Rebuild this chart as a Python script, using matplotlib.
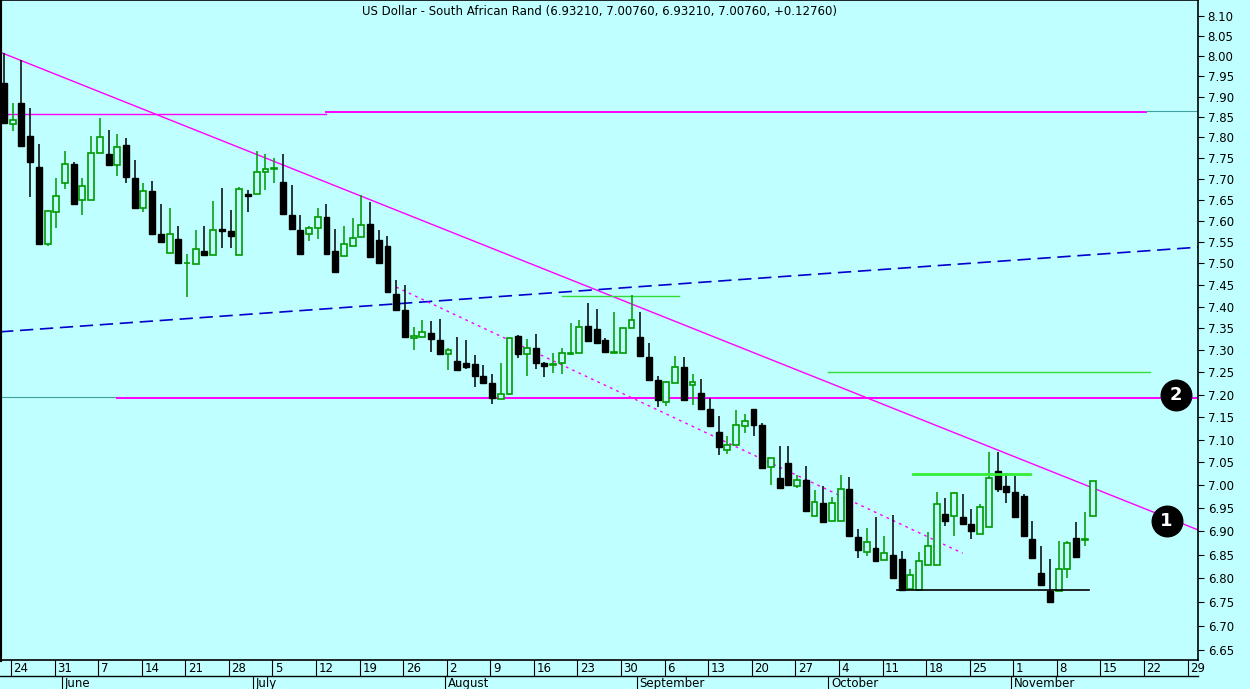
import numpy as np
import matplotlib.pyplot as plt
from matplotlib.ticker import FixedLocator, FixedFormatter, NullLocator
import matplotlib.transforms as mtransforms

# daily USD/ZAR candles, trading day 0 = Fri 21 May
opens = [7.933, 7.832, 7.884, 7.804, 7.729, 7.545, 7.622, 7.689, 7.736, 7.650,
         7.650, 7.763, 7.759, 7.733, 7.781, 7.701, 7.631, 7.670, 7.568, 7.525,
         7.557, 7.500, 7.498, 7.529, 7.519, 7.580, 7.575, 7.519, 7.664, 7.664,
         7.716, 7.723, 7.692, 7.614, 7.578, 7.569, 7.583, 7.610, 7.529, 7.517,
         7.540, 7.561, 7.593, 7.556, 7.540, 7.430, 7.392, 7.329, 7.330, 7.339,
         7.324, 7.291, 7.275, 7.271, 7.269, 7.242, 7.225, 7.190, 7.201, 7.333,
         7.291, 7.305, 7.271, 7.266, 7.271, 7.291, 7.293, 7.355, 7.348, 7.324,
         7.294, 7.293, 7.350, 7.330, 7.285, 7.233, 7.184, 7.227, 7.262, 7.221,
         7.203, 7.168, 7.116, 7.076, 7.087, 7.131, 7.168, 7.132, 7.040, 7.016,
         7.049, 6.999, 7.010, 6.932, 6.961, 6.923, 6.923, 6.992, 6.888, 6.856,
         6.864, 6.838, 6.849, 6.841, 6.777, 6.775, 6.827, 6.827, 6.937, 6.933,
         6.930, 6.915, 6.895, 6.909, 7.031, 6.999, 6.985, 6.976, 6.883, 6.812,
         6.773, 6.773, 6.820, 6.885, 6.881, 6.932]
highs = [8.007, 7.885, 7.991, 7.872, 7.784, 7.627, 7.701, 7.768, 7.740, 7.703,
         7.804, 7.848, 7.818, 7.808, 7.799, 7.746, 7.691, 7.696, 7.640, 7.631,
         7.587, 7.521, 7.579, 7.589, 7.648, 7.678, 7.625, 7.680, 7.673, 7.767,
         7.760, 7.750, 7.761, 7.685, 7.615, 7.589, 7.630, 7.640, 7.580, 7.588,
         7.606, 7.662, 7.645, 7.579, 7.564, 7.462, 7.449, 7.353, 7.369, 7.367,
         7.371, 7.305, 7.331, 7.324, 7.289, 7.267, 7.246, 7.271, 7.329, 7.335,
         7.326, 7.337, 7.274, 7.294, 7.305, 7.362, 7.369, 7.409, 7.394, 7.328,
         7.388, 7.350, 7.426, 7.388, 7.317, 7.242, 7.231, 7.287, 7.285, 7.246,
         7.234, 7.192, 7.153, 7.108, 7.166, 7.157, 7.168, 7.136, 7.059, 7.086,
         7.086, 7.023, 7.042, 6.990, 6.999, 6.974, 7.023, 7.018, 6.905, 6.907,
         6.930, 6.890, 6.935, 6.858, 6.820, 6.855, 6.899, 6.985, 6.972, 6.985,
         6.980, 6.948, 6.958, 7.073, 7.072, 7.026, 7.019, 6.980, 6.922, 6.868,
         6.840, 6.879, 6.879, 6.921, 6.942, 7.008]
lows = [7.835, 7.815, 7.779, 7.657, 7.545, 7.541, 7.584, 7.675, 7.640, 7.614,
        7.650, 7.763, 7.734, 7.706, 7.690, 7.630, 7.621, 7.569, 7.550, 7.525,
        7.501, 7.422, 7.498, 7.520, 7.519, 7.537, 7.537, 7.519, 7.621, 7.664,
        7.673, 7.690, 7.614, 7.580, 7.522, 7.553, 7.557, 7.522, 7.480, 7.517,
        7.540, 7.561, 7.514, 7.500, 7.433, 7.392, 7.331, 7.301, 7.330, 7.295,
        7.292, 7.255, 7.255, 7.258, 7.218, 7.225, 7.179, 7.190, 7.199, 7.283,
        7.242, 7.257, 7.240, 7.249, 7.247, 7.290, 7.293, 7.322, 7.317, 7.295,
        7.293, 7.293, 7.350, 7.286, 7.233, 7.173, 7.175, 7.227, 7.187, 7.177,
        7.168, 7.129, 7.065, 7.067, 7.087, 7.114, 7.107, 7.037, 7.001, 6.993,
        7.001, 6.994, 6.944, 6.932, 6.920, 6.923, 6.923, 6.889, 6.843, 6.847,
        6.837, 6.838, 6.800, 6.775, 6.777, 6.775, 6.827, 6.827, 6.912, 6.890,
        6.916, 6.883, 6.895, 6.909, 6.984, 6.961, 6.931, 6.889, 6.842, 6.785,
        6.749, 6.773, 6.800, 6.844, 6.868, 6.932]
closes = [7.835, 7.843, 7.779, 7.741, 7.545, 7.623, 7.658, 7.735, 7.640, 7.684,
          7.763, 7.801, 7.734, 7.776, 7.704, 7.630, 7.670, 7.569, 7.550, 7.569,
          7.501, 7.500, 7.533, 7.520, 7.579, 7.576, 7.565, 7.676, 7.659, 7.716,
          7.723, 7.726, 7.616, 7.580, 7.522, 7.584, 7.610, 7.522, 7.480, 7.545,
          7.560, 7.591, 7.514, 7.500, 7.433, 7.392, 7.331, 7.333, 7.341, 7.325,
          7.292, 7.300, 7.255, 7.263, 7.242, 7.225, 7.193, 7.201, 7.327, 7.292,
          7.305, 7.272, 7.265, 7.269, 7.294, 7.293, 7.354, 7.322, 7.317, 7.295,
          7.296, 7.350, 7.368, 7.286, 7.233, 7.188, 7.228, 7.261, 7.187, 7.229,
          7.168, 7.129, 7.084, 7.087, 7.132, 7.141, 7.133, 7.037, 7.059, 6.993,
          7.001, 7.012, 6.944, 6.963, 6.920, 6.961, 6.991, 6.889, 6.859, 6.878,
          6.837, 6.853, 6.800, 6.775, 6.807, 6.836, 6.868, 6.958, 6.922, 6.982,
          6.916, 6.901, 6.953, 7.016, 6.992, 6.985, 6.931, 6.889, 6.842, 6.785,
          6.749, 6.820, 6.875, 6.844, 6.883, 7.008]

# weekly date labels (Mondays) and month starts, as trading-day index
week_labels = ['24', '31', '7', '14', '21', '28', '5', '12', '19', '26', '2', '9', '16', '23',
               '30', '6', '13', '20', '27', '4', '11', '18', '25', '1', '8', '15', '22', '29']
week_days = [1 + 5 * k for k in range(len(week_labels))]
month_labels = ['June', 'July', 'August', 'September', 'October', 'November']
month_days = [7, 29, 51, 73, 95, 116]

y_ticks = [round(6.65 + 0.05 * k, 2) for k in range(30)]

BG = '#C0FFFF'
UP = '#009900'

fig = plt.figure(figsize=(12.5, 6.89), dpi=100, facecolor=BG)
ax = fig.add_axes([0.0, 1 - 660 / 689, 1198 / 1250, 660 / 689])
ax.set_facecolor(BG)
ax.set_yscale('log')

x = np.arange(len(opens))
o = np.array(opens); c = np.array(closes)
h = np.array(highs); l = np.array(lows)
up = c >= o
w = 0.68

for i in x:
    col = UP if up[i] else 'black'
    ax.vlines(i, l[i], h[i], color=col, lw=1.1, zorder=3)
    bot = min(o[i], c[i])
    ht = max(abs(c[i] - o[i]), 0.002)
    if up[i]:
        ax.bar(i, ht, w, bot, facecolor=BG, edgecolor=UP, lw=1.2, zorder=4)
    else:
        ax.bar(i, ht, w, bot, facecolor='black', edgecolor='black', lw=1.0, zorder=4)

# trend lines and levels
ax.plot([-0.46, 137], [8.010, 6.903], color='#FF00FF', lw=1, zorder=2)
ax.plot([-0.46, 37], [7.858, 7.858], color='#FF00FF', lw=1, zorder=2)
ax.plot([37, 131], [7.861, 7.861], color='#FF00FF', lw=1.4, zorder=2)
ax.plot([131, 137], [7.864, 7.864], color='#40A0A0', lw=0.8, zorder=2)
ax.plot([-0.46, 13], [7.195, 7.195], color='#40A0A0', lw=0.8, zorder=2)
ax.plot([13, 137], [7.192, 7.192], color='#FF00FF', lw=1.4, zorder=2)
ax.plot([-0.46, 137], [7.342, 7.538], color='#0000CC', lw=1.2, ls=(0, (8, 4)), zorder=2)
ax.plot([45, 110], [7.445, 6.853], color='#FF00FF', lw=1, ls=(0, (2, 3)), zorder=2)
ax.plot([94.5, 131.5], [7.251, 7.251], color='#33DD33', lw=1, zorder=2)
ax.plot([64, 77.5], [7.424, 7.424], color='#33DD33', lw=1, zorder=2)
ax.plot([104.3, 117.7], [7.024, 7.024], color='#33EE33', lw=2, zorder=5)
ax.plot([102.5, 124.5], [6.774, 6.774], color='black', lw=1.2, zorder=5)

for num, (cx, cy) in zip(['1', '2'], [(133.4, 6.923), (134.5, 7.198)]):
    ax.plot(cx, cy, 'o', ms=22, color='black', zorder=6)
    ax.text(cx, cy, num, color='white', fontsize=13, fontweight='bold',
            ha='center', va='center', zorder=7)

ax.set_xlim(-0.46, 137)
ax.set_ylim(6.629, 8.141)
ax.yaxis.set_major_locator(FixedLocator(y_ticks))
ax.yaxis.set_major_formatter(FixedFormatter(['%.2f' % t for t in y_ticks]))
ax.yaxis.set_minor_locator(NullLocator())
ax.yaxis.tick_right()
ax.tick_params(axis='y', direction='out', length=4, labelsize=8.5, pad=3)
ax.set_xticks([])
for s in ax.spines.values():
    s.set_linewidth(1.2)
ax.spines['left'].set_linewidth(3)

ax.set_title('US Dollar - South African Rand (6.93210, 7.00760, 6.93210, 7.00760, +0.12760)',
             fontsize=8.5, y=0.978, pad=0)

# date rows under the chart
trans = mtransforms.blended_transform_factory(ax.transData, ax.transAxes)
r1 = -16 / 660
r2 = -29 / 660
ax.plot([-0.46, 137], [r1, r1], color='black', lw=1, transform=trans, clip_on=False)
for d, lab in zip(week_days, week_labels):
    ax.plot([d - 0.2, d - 0.2], [0, r1], color='black', lw=0.8, transform=trans, clip_on=False)
    ax.text(d + 0.1, r1 / 2, lab, fontsize=8.5, va='center', ha='left', transform=trans)
for d, lab in zip(month_days, month_labels):
    ax.plot([d - 0.4, d - 0.4], [r1, r2], color='black', lw=0.8, transform=trans, clip_on=False)
    ax.text(d - 0.1, (r1 + r2) / 2 - 0.002, lab, fontsize=8.5, va='center', ha='left', transform=trans)

fig.savefig('out.png', dpi=100, facecolor=BG)
